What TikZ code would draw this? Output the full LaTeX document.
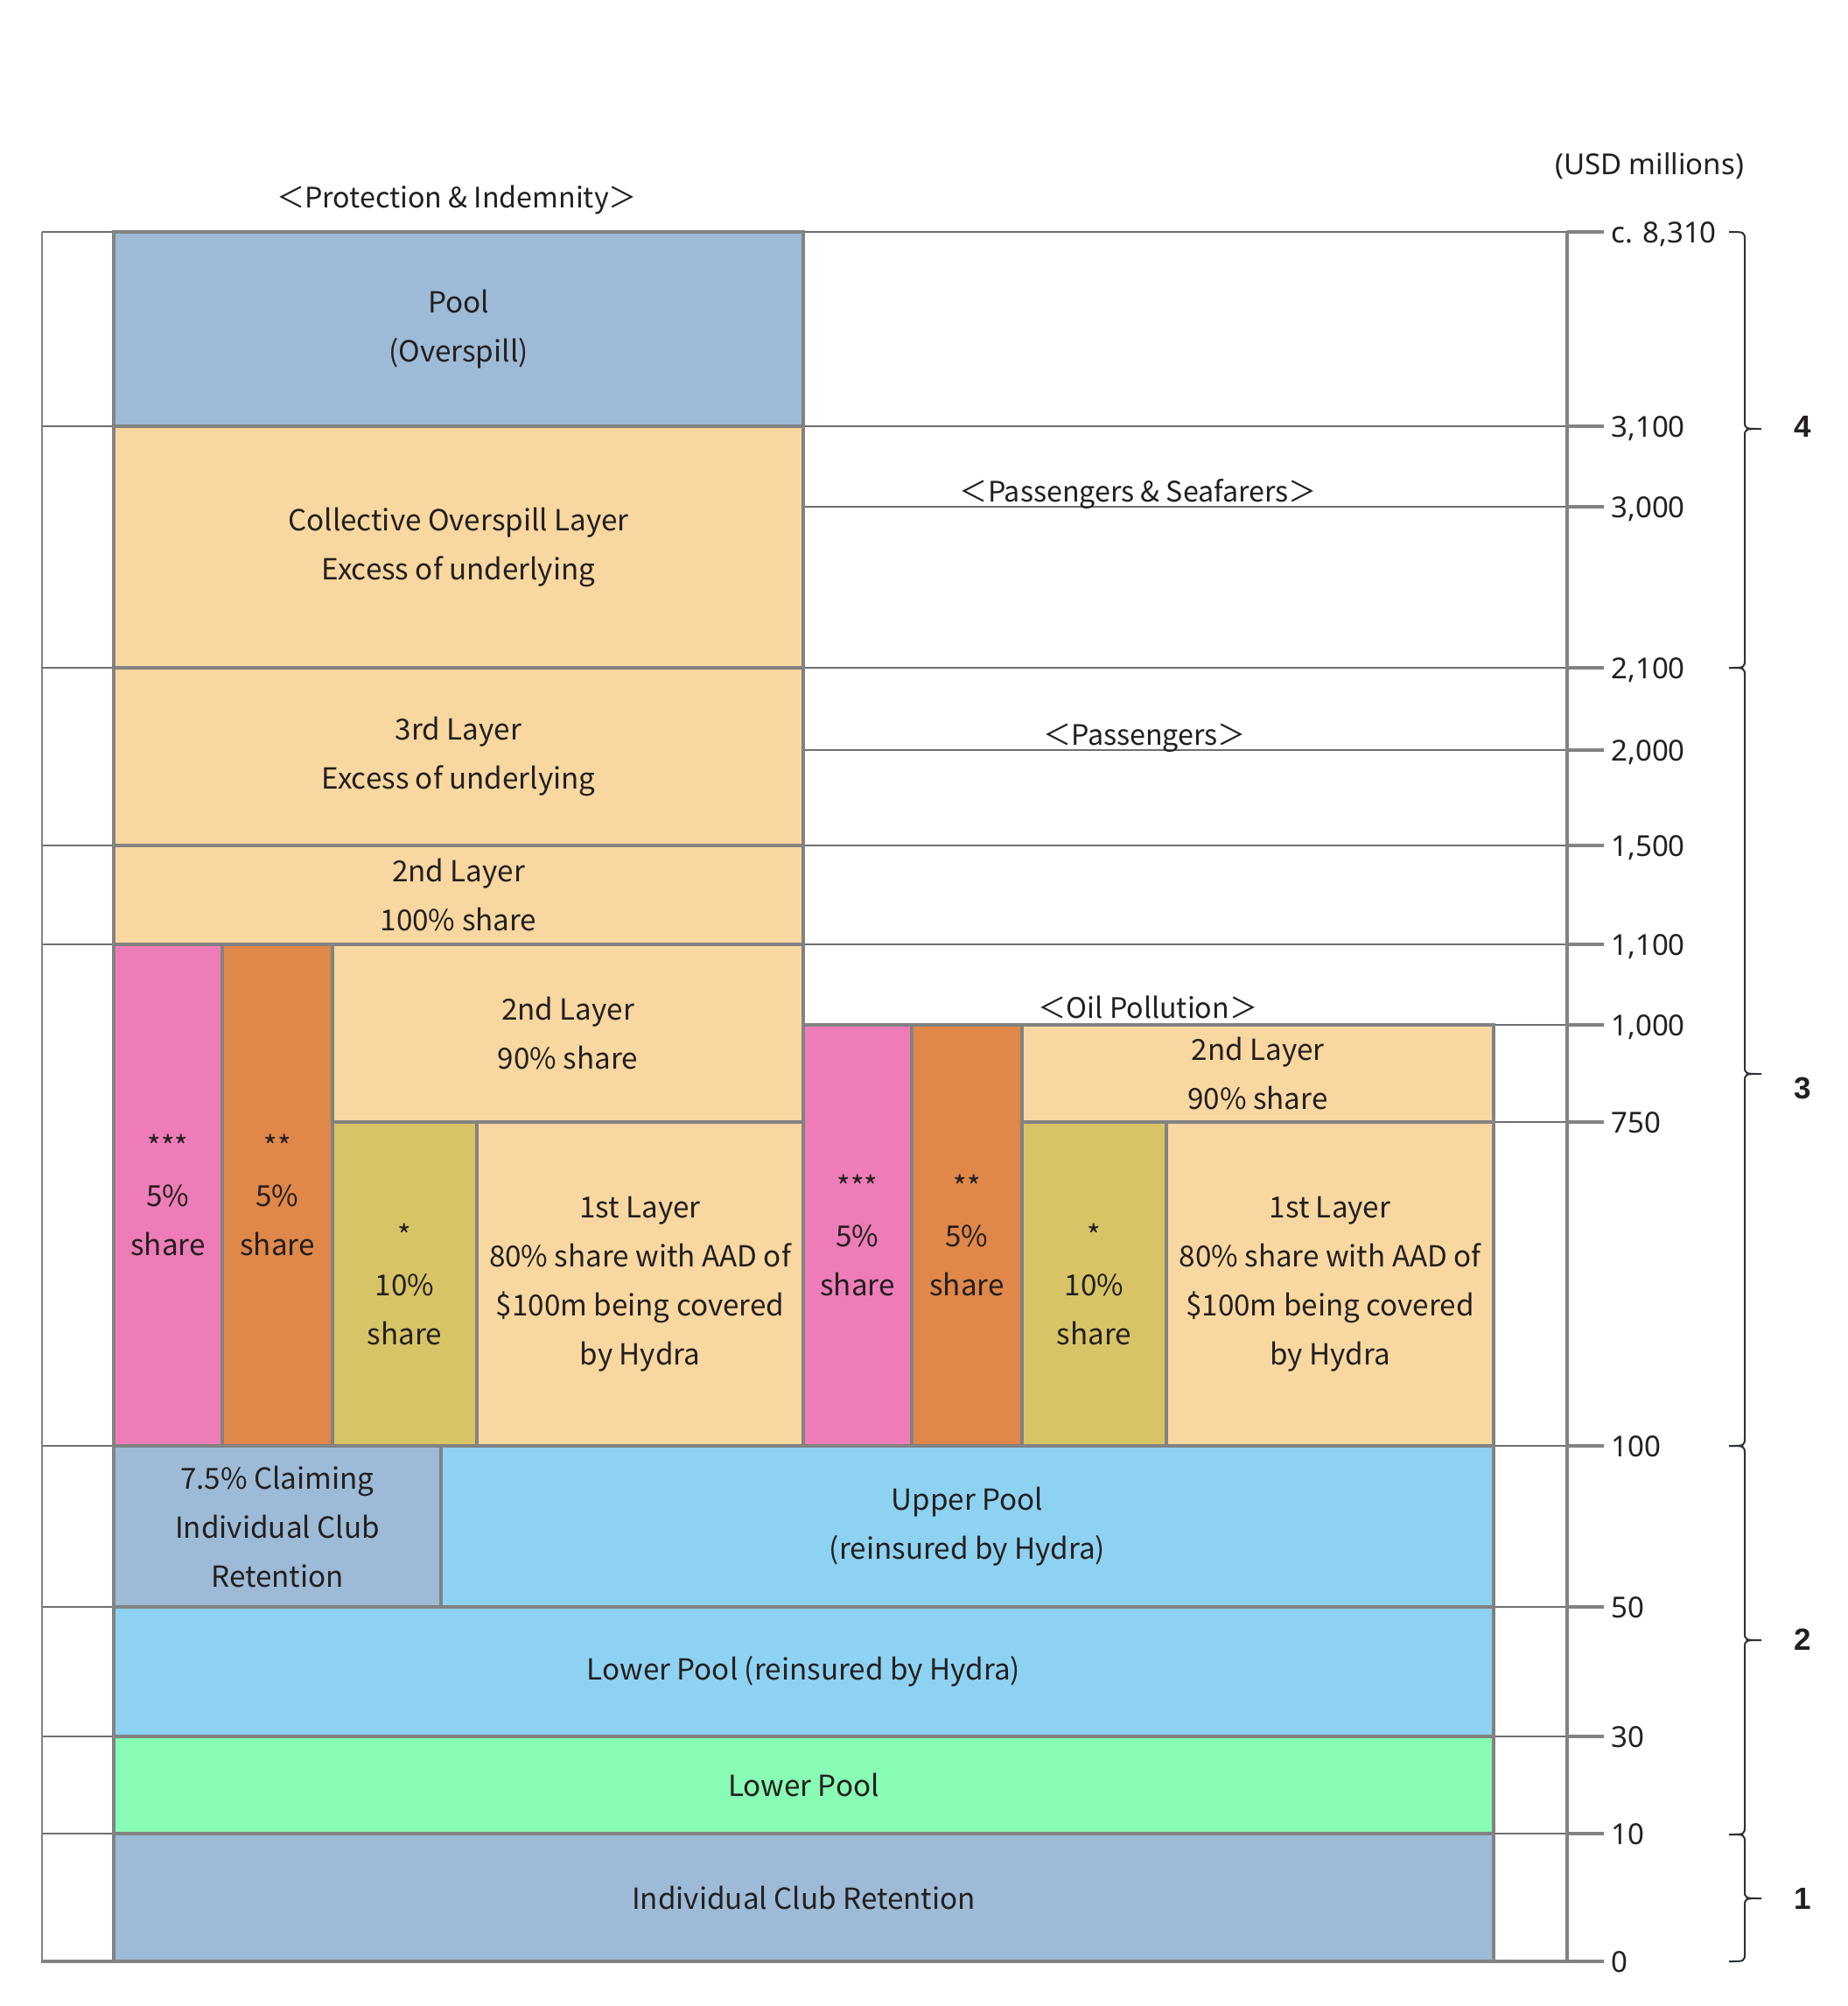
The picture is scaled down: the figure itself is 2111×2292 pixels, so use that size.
\documentclass[tikz,border=0pt]{standalone}
\usepackage{fontspec}
\setmainfont{Noto Sans CJK JP}
\newfontfamily\tickfont{Noto Sans}
\newfontfamily\lblfont{Liberation Sans}
\definecolor{bluegray}{HTML}{9DBBD6}
\definecolor{tanc}{HTML}{F8D8A0}
\definecolor{pinkc}{HTML}{EE7DB7}
\definecolor{orangec}{HTML}{E0874A}
\definecolor{olivec}{HTML}{D7C466}
\definecolor{skyc}{HTML}{8ED2F2}
\definecolor{greenc}{HTML}{88FBB4}
\definecolor{bordc}{HTML}{828282}
\definecolor{txtc}{HTML}{231F20}
\definecolor{linec}{HTML}{6E6E6E}
\definecolor{bracec}{HTML}{2E3236}
\tikzset{
  blk/.style={draw=bordc, line width=1.7pt, inner sep=0pt, align=center, text=txtc,
    font=\fontsize{16.6}{28}\selectfont},
  thinln/.style={draw=linec, line width=0.6pt},
  axisln/.style={draw=bordc, line width=1.8pt},
  ticklbl/.style={anchor=base west, inner sep=0pt, text=txtc, font=\tickfont\fontsize{16.5}{20}\selectfont},
  hdr/.style={anchor=base, inner sep=0pt, text=txtc, font=\fontsize{16.1}{28}\selectfont},
  brc/.style={draw=bracec, line width=1pt},
  brlbl/.style={inner sep=0pt, text=txtc, font=\lblfont\bfseries\fontsize{17.5}{20}\selectfont}
}
\newcommand\blk[7]{\node[blk, fill=#6, minimum width={(#4-#2)*0.5pt}, minimum height={(#5-#3)*0.5pt}] (#1) at ({(#2+#4)/2},{(#3+#5)/2}) {#7};}
\newcommand\brc[3]{\draw[brc] (1976,#1) .. controls (1994,#1) .. (1994,{#1+10}) -- (1994,{#2-9}) .. controls (1994,#2) .. (2013,#2) .. controls (1994,#2) .. (1994,{#2+9}) -- (1994,{#3-10}) .. controls (1994,#3) .. (1976,#3);}
\begin{document}
\begin{tikzpicture}[x=0.5pt,y=-0.5pt]
\useasboundingbox (0,0) rectangle (2111,2292);
\fill[white] (0,0) rectangle (2111,2292);
% thin level lines
\foreach \yy in {265,487,763,966,1079,1652,1836,1984,2095}
  \draw[thinln] (48,\yy) -- (1791,\yy);
\foreach \yy in {579,857,1171,1282}
  \draw[thinln] (918,\yy) -- (1791,\yy);
% headers
\node[hdr] (hpi) at (522,237) {＜Protection \& Indemnity＞};
\node[hdr] (hps) at (1301,573) {＜Passengers \& Seafarers＞};
\node[hdr] (hp) at (1308,851) {＜Passengers＞};
\node[hdr] (hop) at (1312,1163) {＜Oil Pollution＞};
% P&I blocks
\blk{pool}{130}{265}{918}{487}{bluegray}{Pool\\(Overspill)}
\blk{col}{130}{487}{918}{763}{tanc}{Collective Overspill Layer\\Excess of underlying}
\blk{lthree}{130}{763}{918}{966}{tanc}{3rd Layer\\Excess of underlying}
\blk{ltwoa}{130}{966}{918}{1079}{tanc}{2nd Layer\\100\% share}
\blk{pa}{130}{1079}{254}{1652}{pinkc}{***\\5\%\\share}
\blk{oa}{254}{1079}{380}{1652}{orangec}{**\\5\%\\share}
\blk{ltwob}{380}{1079}{918}{1282}{tanc}{2nd Layer\\90\% share}
\blk{ya}{380}{1282}{545}{1652}{olivec}{*\\10\%\\share}
\blk{lonea}{545}{1282}{918}{1652}{tanc}{1st Layer\\80\% share with AAD of\\\$100m being covered\\by Hydra}
% Oil pollution blocks
\blk{pb}{918}{1171}{1042}{1652}{pinkc}{***\\5\%\\share}
\blk{ob}{1042}{1171}{1168}{1652}{orangec}{**\\5\%\\share}
\blk{ltwoc}{1168}{1171}{1707}{1282}{tanc}{2nd Layer\\90\% share}
\blk{yb}{1168}{1282}{1333}{1652}{olivec}{*\\10\%\\share}
\blk{loneb}{1333}{1282}{1707}{1652}{tanc}{1st Layer\\80\% share with AAD of\\\$100m being covered\\by Hydra}
% lower blocks
\blk{claim}{130}{1652}{504}{1836}{bluegray}{7.5\% Claiming\\Individual Club\\Retention}
\blk{upper}{504}{1652}{1707}{1836}{skyc}{Upper Pool\\(reinsured by Hydra)}
\blk{lowerh}{130}{1836}{1707}{1984}{skyc}{Lower Pool (reinsured by Hydra)}
\blk{lower}{130}{1984}{1707}{2095}{greenc}{Lower Pool}
\blk{icr}{130}{2095}{1707}{2241}{bluegray}{Individual Club Retention}
% frame and axis
\draw[draw=bordc, line width=1.3pt] (48,265) -- (48,2241);
\draw[axisln] (1791,265) -- (1791,2241);
\draw[draw=bordc, line width=2pt] (47,2241) -- (1833,2241);
\foreach \yy/\lab in {265/c. 8{,}310,487/3{,}100,579/3{,}000,763/2{,}100,857/2{,}000,966/1{,}500,1079/1{,}100,1171/1{,}000,1282/750,1652/100,1836/50,1984/30,2095/10,2241/0}{
  \draw[axisln] (1791,\yy) -- (1833,\yy);
  \node[ticklbl] at (1841,\yy+12) {\lab};
}
\node[ticklbl, anchor=base] (usd) at (1885,199) {(USD millions)};
% braces
\brc{265}{490}{763}
\brc{763}{1227}{1652}
\brc{1652}{1874}{2096}
\brc{2096}{2169}{2241}
\node[brlbl] (bfour) at (2060,487) {4};
\node[brlbl] (bthree) at (2060,1243) {3};
\node[brlbl] (btwo) at (2060,1873) {2};
\node[brlbl] (bone) at (2060,2169) {1};
\end{tikzpicture}
\end{document}
